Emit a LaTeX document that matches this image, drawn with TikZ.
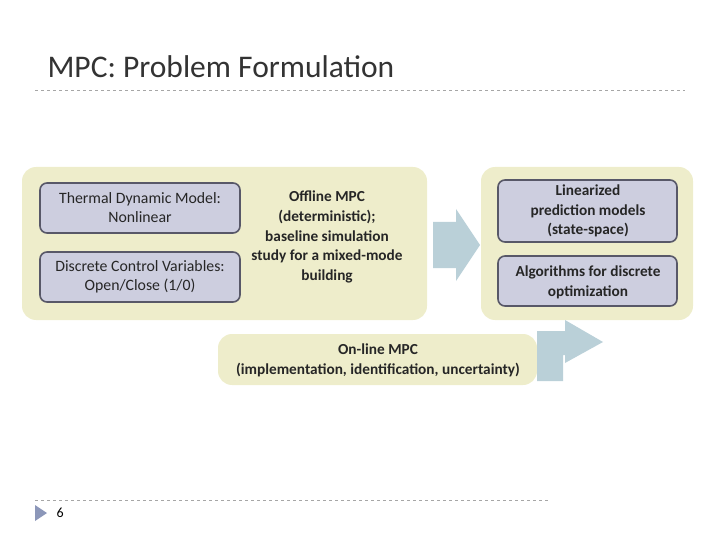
\documentclass[tikz,border=0pt]{standalone}
\usepackage{fontspec}
\setmainfont{Carlito}
\begin{document}
\begin{tikzpicture}[x=1pt,y=-1pt,
panel/.style={fill=panelc,rounded corners=14pt},
box/.style={fill=boxc,draw=boxd,line width=1.6pt,rounded corners=7pt},
txt/.style={align=center,font=\fontsize{15.8}{19}\selectfont,text=black!85},
btxt/.style={align=center,font=\bfseries\fontsize{15.3}{19.8}\selectfont,text=black!85}]
\definecolor{panelc}{HTML}{EEEDCB}
\definecolor{boxc}{HTML}{CDCEDF}
\definecolor{boxd}{HTML}{585868}
\definecolor{arr}{HTML}{BAD0D8}
\useasboundingbox (0,0) rectangle (720,540);
\node[anchor=base west,font=\fontsize{31.5}{36}\selectfont,text=black!80] (title) at (44,78) {MPC: Problem Formulation};
\draw[gray!70,dashed,line width=0.7pt] (35,90) -- (685,90);
\path[panel] (22,167) rectangle (427,320);
\path[panel] (481,167) rectangle (693,320);
\path[panel] (218,334) rectangle (537,385);
\draw[box] (40,183) rectangle (240,233);
\node[txt] (thermal) at (140,208) {Thermal Dynamic Model:\\Nonlinear};
\draw[box] (40,252) rectangle (240,302);
\node[txt] (discrete) at (140,277) {Discrete Control Variables:\\Open/Close (1/0)};
\node[btxt] (offline) at (327,237) {Offline MPC\\(deterministic);\\baseline simulation\\study for a mixed-mode\\building};
\fill[arr] (433,222) -- (456,222) -- (456,209) -- (480,245) -- (456,281) -- (456,268) -- (433,268) -- cycle;
\draw[box] (498,180) rectangle (677,242);
\node[btxt] (lin) at (588,211) {Linearized\\prediction models\\(state-space)};
\draw[box] (498,256) rectangle (677,306);
\node[btxt] (alg) at (588,282) {Algorithms for discrete\\optimization};
\node[btxt] (online) at (378,360) {On-line MPC\\(implementation, identification, uncertainty)};
\fill[arr] (537,381) -- (537,331) -- (565,331) -- (565,320) -- (603,342) -- (565,363) -- (565,355) -- (563,355) -- (563,381) -- cycle;
\draw[gray!70,dashed,line width=0.7pt] (35,500) -- (550,500);
\fill[arr!80!blue!60!gray] (35,505) -- (47,513) -- (35,521) -- cycle;
\node[anchor=west,font=\fontsize{14}{16}\selectfont] (pg) at (53,513) {6};
\end{tikzpicture}
\end{document}
